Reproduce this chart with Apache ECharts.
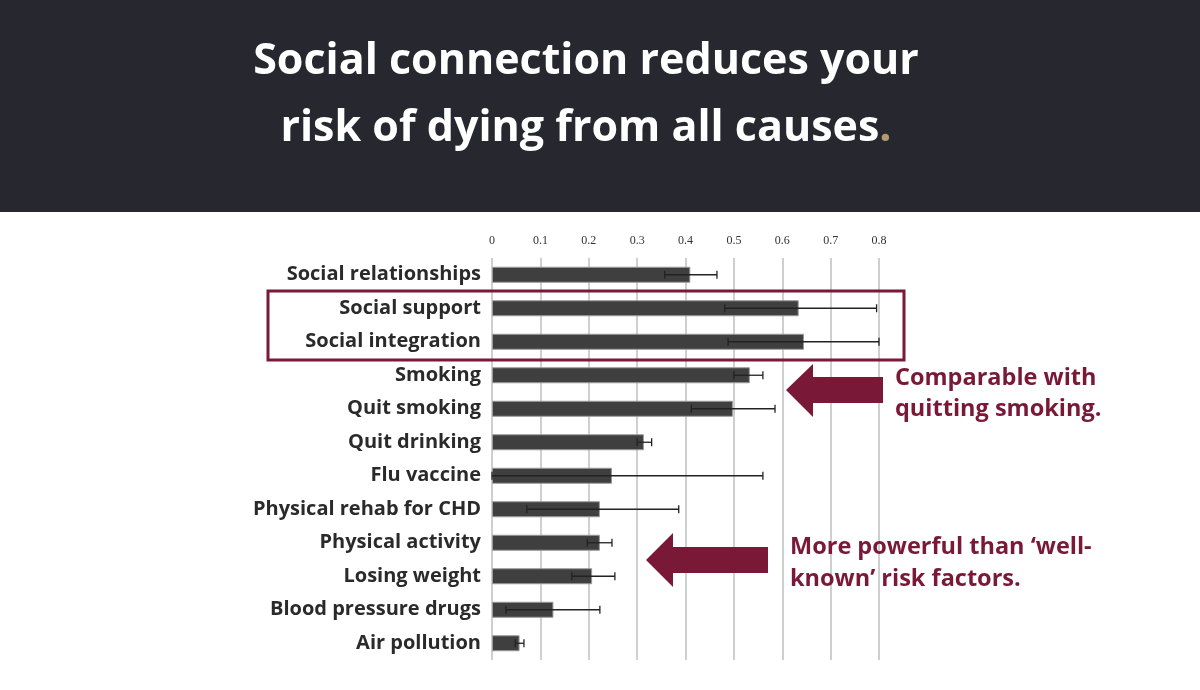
<!DOCTYPE html>
<html>
<head>
<meta charset="utf-8">
<script src="https://cdn.jsdelivr.net/npm/echarts@6/dist/echarts.min.js"></script>
<style>
  html, body { margin: 0; padding: 0; background: #ffffff; }
  #chart { width: 1200px; height: 690px; }
</style>
</head>
<body>
<div id="chart"></div>
<script>
// ---- data ----
const categories = [
  'Social relationships', 'Social support', 'Social integration', 'Smoking',
  'Quit smoking', 'Quit drinking', 'Flu vaccine', 'Physical rehab for CHD',
  'Physical activity', 'Losing weight', 'Blood pressure drugs', 'Air pollution'
];
const values  = [0.41, 0.634, 0.645, 0.533, 0.498, 0.314, 0.248, 0.223, 0.223, 0.207, 0.127, 0.057];
const errLow  = [0.357, 0.481, 0.488, 0.50, 0.412, 0.30, 0.0, 0.072, 0.197, 0.165, 0.029, 0.048];
const errHigh = [0.465, 0.795, 0.80, 0.56, 0.585, 0.33, 0.56, 0.386, 0.248, 0.254, 0.223, 0.066];
const tickValues = [0, 0.1, 0.2, 0.3, 0.4, 0.5, 0.6, 0.7, 0.8];
const titleLines = ['Social connection reduces your', 'risk of dying from all causes'];
const noteTop = ['Comparable with', 'quitting smoking.'];
const noteBottom = ['More powerful than \u2018well-', 'known\u2019 risk factors.'];

const MAROON = '#7a1838';
const FONT = '"Open Sans"';
const chart = echarts.init(document.getElementById('chart'), null, { renderer: 'canvas' });

const errData = categories.map((c, i) => [i, errLow[i], errHigh[i]]);

const option = {
  backgroundColor: '#ffffff',
  animation: false,
  grid: { left: 492, top: 258, width: 387, height: 402, containLabel: false },
  xAxis: {
    type: 'value', position: 'top',
    min: tickValues[0], max: tickValues[tickValues.length - 1], interval: 0.1,
    axisLine: { show: false }, axisTick: { show: false },
    splitLine: { show: true, lineStyle: { color: '#cfcfcf', width: 2 } },
    axisLabel: {
      margin: 11, fontFamily: 'Liberation Serif', fontSize: 12, color: '#333',
      formatter: v => (v === 0 ? '0' : v.toFixed(1))
    }
  },
  yAxis: {
    type: 'category', data: categories, inverse: true,
    axisLine: { show: false }, axisTick: { show: false },
    axisLabel: { margin: 11, fontFamily: 'Open Sans', fontWeight: 'bold', fontSize: 20, color: '#2a2a2a',
      padding: [9, 0, 0, 0] }
  },
  series: [
    {
      type: 'bar', data: values, barWidth: 16,
      itemStyle: { color: '#3f3f3f', borderColor: '#9a9a9a', borderWidth: 1 },
      z: 2
    },
    {
      type: 'custom', data: errData, z: 3,
      encode: { y: 0, x: [1, 2] },
      renderItem: function (params, api) {
        const ci = api.value(0);
        const p1 = api.coord([api.value(1), ci]);
        const p2 = api.coord([api.value(2), ci]);
        const h = 4;
        const st = { stroke: '#222', lineWidth: 1.3 };
        return {
          type: 'group',
          children: [
            { type: 'line', shape: { x1: p1[0], y1: p1[1], x2: p2[0], y2: p2[1] }, style: st },
            { type: 'line', shape: { x1: p1[0], y1: p1[1] - h, x2: p1[0], y2: p1[1] + h }, style: st },
            { type: 'line', shape: { x1: p2[0], y1: p2[1] - h, x2: p2[0], y2: p2[1] + h }, style: st }
          ]
        };
      }
    }
  ],
  graphic: [
    { type: 'rect', z: -10, shape: { x: 0, y: 0, width: 1200, height: 212 }, style: { fill: '#27282f' } },
    { type: 'text', z: 10, x: 586, y: 62, style: {
        text: titleLines[0], fill: '#ffffff', font: 'bold 43px ' + FONT,
        textAlign: 'center', textVerticalAlign: 'middle' } },
    { type: 'text', z: 10, x: 586, y: 129, style: {
        text: '{w|' + titleLines[1] + '}{g|.}', textAlign: 'center', textVerticalAlign: 'middle',
        rich: {
          w: { fill: '#ffffff', font: 'bold 43px ' + FONT },
          g: { fill: '#b39a6e', font: 'bold 43px ' + FONT }
        } } },
    { type: 'rect', z: 20, shape: { x: 268, y: 291, width: 636, height: 69 },
      style: { fill: 'none', stroke: MAROON, lineWidth: 3 } },
    { type: 'polygon', z: 20, shape: { points: [[786, 390], [813, 364], [813, 377], [883, 377], [883, 403], [813, 403], [813, 417]] },
      style: { fill: MAROON } },
    { type: 'polygon', z: 20, shape: { points: [[646, 560], [673, 533], [673, 547], [768, 547], [768, 573], [673, 573], [673, 587]] },
      style: { fill: MAROON } },
    { type: 'text', z: 20, x: 895, y: 378, style: { text: noteTop[0], fill: MAROON, font: 'bold 23.5px ' + FONT, textVerticalAlign: 'middle' } },
    { type: 'text', z: 20, x: 895, y: 409, style: { text: noteTop[1], fill: MAROON, font: 'bold 23.5px ' + FONT, textVerticalAlign: 'middle' } },
    { type: 'text', z: 20, x: 790, y: 547, style: { text: noteBottom[0], fill: MAROON, font: 'bold 23.5px ' + FONT, textVerticalAlign: 'middle' } },
    { type: 'text', z: 20, x: 790, y: 579, style: { text: noteBottom[1], fill: MAROON, font: 'bold 23.5px ' + FONT, textVerticalAlign: 'middle' } }
  ]
};
chart.setOption(option);
</script>
</body>
</html>
